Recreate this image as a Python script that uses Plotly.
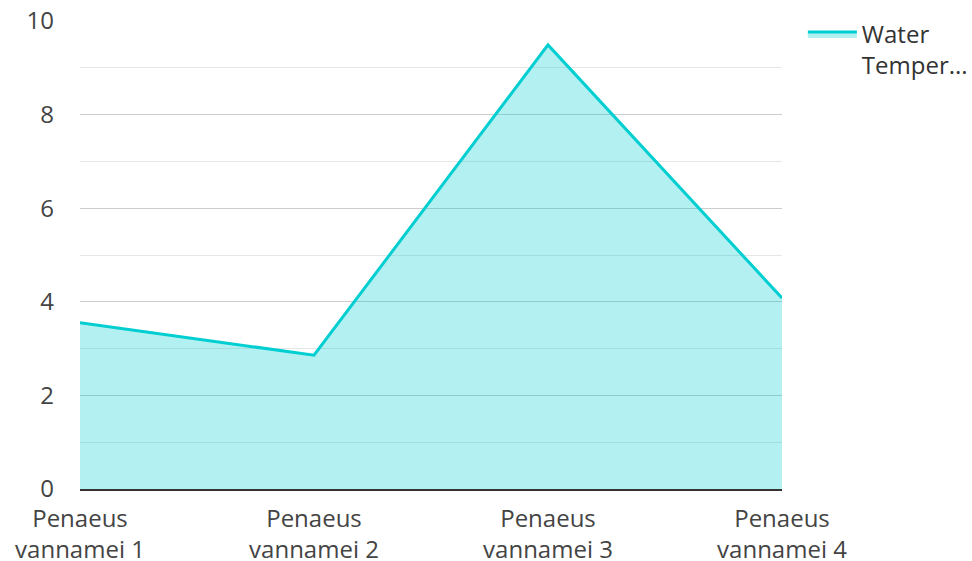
import plotly.graph_objects as go

categories = ["Penaeus<br>vannamei 1", "Penaeus<br>vannamei 2", "Penaeus<br>vannamei 3", "Penaeus<br>vannamei 4"]
values = [3.55, 2.86, 9.49, 4.08]
series_name = "Water<br>Temper..."
y_ticks = [0, 2, 4, 6, 8, 10]

fig = go.Figure()
fig.add_trace(go.Scatter(
    x=list(range(len(categories))), y=values, name=series_name,
    mode="lines", fill="tozeroy",
    line=dict(color="#00CED1", width=3),
    fillcolor="rgba(0,206,209,0.3)",
))

fig.update_layout(
    width=972, height=561, autosize=False,
    margin=dict(l=80, r=190, t=21, b=72),
    paper_bgcolor="white", plot_bgcolor="white",
    font=dict(family="Open Sans", size=24, color="#444444"),
    showlegend=True,
    legend=dict(xref="container", yref="container", x=0.826, y=0.979,
                xanchor="left", yanchor="top", valign="top",
                font=dict(size=24, color="#333333"), itemwidth=49),
)
fig.update_xaxes(
    range=[0, 3], tickmode="array", tickvals=list(range(len(categories))), ticktext=categories,
    showgrid=False, showline=True, linecolor="#333333", linewidth=2, ticks="", zeroline=False,
    ticklabelstandoff=7, automargin=False,
)
fig.update_yaxes(
    range=[0, 10], tickvals=y_ticks, showgrid=True, gridcolor="#cccccc", gridwidth=1,
    minor=dict(dtick=1, showgrid=True, gridcolor="#e6e6e6", gridwidth=1),
    zeroline=False, showline=False, ticks="", ticklabelstandoff=25, automargin=False,
)
fig.write_html("out.html", config={"displayModeBar": False, "responsive": False},
               post_script="document.body.style.margin='0';document.body.style.overflow='hidden';")
